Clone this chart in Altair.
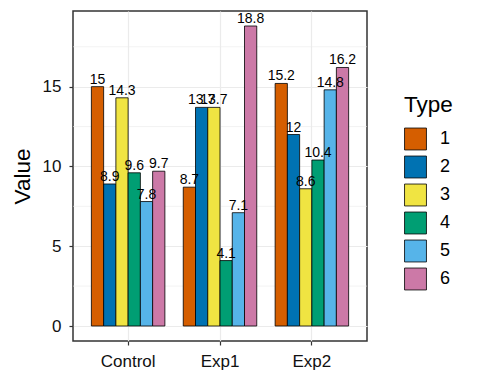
import altair as alt
import pandas as pd

conditions = ["Control", "Exp1", "Exp2"]
types = ["1", "2", "3", "4", "5", "6"]
control_vals = [15, 8.9, 14.3, 9.6, 7.8, 9.7]
exp1_vals = [8.7, 13.7, 13.7, 4.1, 7.1, 18.8]
exp2_vals = [15.2, 12, 8.6, 10.4, 14.8, 16.2]
palette = ["#D55E00", "#0072B2", "#F0E442", "#009E73", "#56B4E9", "#CC79A7"]
minor_breaks = [2.5, 7.5, 12.5, 17.5]

rows = []
for cond, vals in zip(conditions, [control_vals, exp1_vals, exp2_vals]):
    for t, v in zip(types, vals):
        rows.append({"Condition": cond, "Type": t, "Value": v})
df = pd.DataFrame(rows)
minor_df = pd.DataFrame({"m": minor_breaks})

FONT = "Liberation Sans"

yscale = alt.Scale(domain=[-0.94, 19.74], nice=False, zero=False)
xscale = alt.Scale(domain=conditions, paddingInner=0.2, paddingOuter=0.2)

minor = alt.Chart(minor_df).mark_rule(color="#EBEBEB", strokeWidth=0.6).encode(
    y=alt.Y("m:Q", scale=yscale)
)

base = alt.Chart(df).encode(
    x=alt.X("Condition:N", scale=xscale, sort=conditions,
            axis=alt.Axis(title=None, labelAngle=0, grid=True, bandPosition=0.5,
                          gridColor="#EBEBEB", gridWidth=1.2,
                          labelFontSize=17, labelColor="#111111", labelFont=FONT,
                          tickColor="#333333", tickSize=4, tickWidth=1.2,
                          domain=False, labelPadding=8)),
    xOffset=alt.XOffset("Type:N", sort=types),
    y=alt.Y("Value:Q", scale=yscale,
            axis=alt.Axis(values=[0, 5, 10, 15], grid=True, gridColor="#EBEBEB",
                          gridWidth=1.2, labelFontSize=17, labelColor="#111111",
                          labelFont=FONT, tickColor="#333333", tickSize=4,
                          tickWidth=1.2, domain=False, title="Value",
                          titleFontSize=22.5, titleFont=FONT, titleFontWeight="normal",
                          titleColor="black", titlePadding=8, labelPadding=8)),
)

bars = base.mark_bar(stroke="black", strokeWidth=0.8).encode(
    y2=alt.datum(0),
    color=alt.Color("Type:N", sort=types,
                    scale=alt.Scale(domain=types, range=palette),
                    legend=alt.Legend(title="Type", titleFontSize=22.5, titleFont=FONT,
                                      titleFontWeight="normal", titleColor="black",
                                      labelFontSize=18, labelFont=FONT, labelColor="black",
                                      symbolType="square", symbolSize=480,
                                      symbolStrokeColor="black", symbolStrokeWidth=0.8,
                                      rowPadding=1, labelOffset=13, titlePadding=11,
                                      orient="none", legendX=331, legendY=83)),
)

labels = base.mark_text(baseline="alphabetic", dy=-3, fontSize=14, font=FONT,
                        color="black").encode(
    text=alt.Text("Value:Q", format="~g")
)

chart = alt.layer(minor, bars, labels).properties(
    width=294, height=330,
    padding={"left": 65, "top": 3, "right": 105, "bottom": 40},
    autosize=alt.AutoSizeParams(type="none"),
).configure_view(stroke="#333333", strokeWidth=1.5).configure_axis(
    labelFont=FONT
)

chart.save("out.html", embed_options={"renderer": "svg", "actions": False})
